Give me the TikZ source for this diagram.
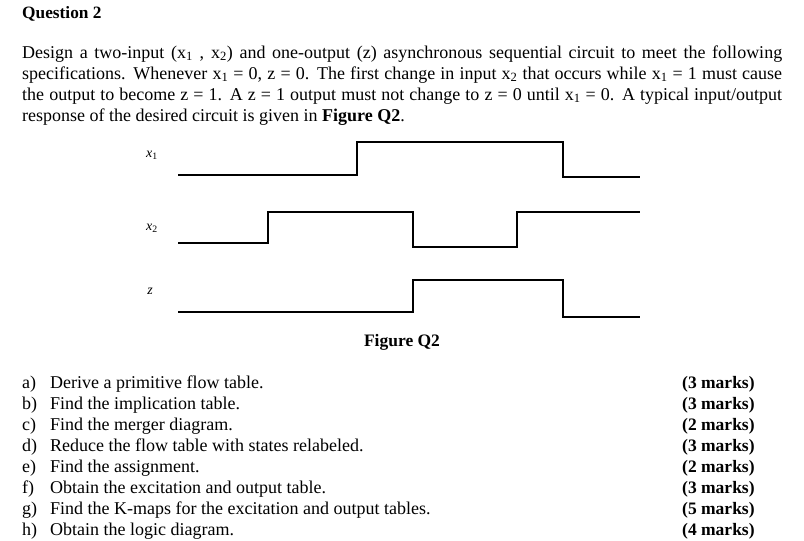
\documentclass[tikz,border=0pt]{standalone}
\usepackage{fontspec}
\setmainfont{Liberation Serif}
\begin{document}
\begin{tikzpicture}[x=1pt,y=-1pt,
  wave/.style={line width=2.6pt,line join=miter},
  ln/.style={anchor=base west,inner sep=0pt,font=\fontsize{18}{20}\selectfont},
  mk/.style={anchor=base west,inner sep=0pt,font=\fontsize{17.5}{20}\selectfont\bfseries},
  lab/.style={inner sep=0pt,font=\fontsize{14}{16}\selectfont\itshape}]
\useasboundingbox (0,0) rectangle (804,541);
\node[ln,font=\fontsize{17.3}{20}\selectfont\bfseries] (q) at (22,18) {Question 2};
\node[ln] (p1) at (22,58) {\makebox[760pt][s]{Design a two-input (x\textsubscript{1} , x\textsubscript{2}) and one-output (z) asynchronous sequential circuit to meet the following}};
\node[ln] (p2) at (22,79) {\makebox[760pt][s]{specifications. Whenever x\textsubscript{1} = 0, z = 0. The first change in input x\textsubscript{2} that occurs while x\textsubscript{1} = 1 must cause}};
\node[ln] (p3) at (22,100) {\makebox[760pt][s]{the output to become z = 1. A z = 1 output must not change to z = 0 until x\textsubscript{1} = 0. A typical input/output}};
\node[ln] (p4) at (22,121) {response of the desired circuit is given in \textbf{Figure Q2}.};
\node[lab] (l1) at (152,155) {x\textsubscript{\upshape 1}};
\node[lab] (l2) at (152,228) {x\textsubscript{\upshape 2}};
\node[lab] (l3) at (150,291) {z};
\draw[wave] (178,175) -- (357,175) -- (357,142) -- (563,142) -- (563,177) -- (640,177);
\draw[wave] (178,243) -- (268,243) -- (268,212) -- (413,212) -- (413,247) -- (517,247) -- (517,212) -- (640,212);
\draw[wave] (178,312) -- (413,312) -- (413,280) -- (563,280) -- (563,317) -- (640,317);
\node[mk,anchor=base] (fig) at (402,346) {Figure Q2};
\foreach \l/\t/\m [count=\i] in {a)/Derive a primitive flow table./3 marks,
  b)/Find the implication table./3 marks,
  c)/Find the merger diagram./2 marks,
  d)/Reduce the flow table with states relabeled./3 marks,
  e)/Find the assignment./2 marks,
  f)/Obtain the excitation and output table./3 marks,
  g)/Find the K-maps for the excitation and output tables./5 marks,
  h)/Obtain the logic diagram./4 marks}{
  \node[ln] (a\i) at (22,{388+21*(\i-1)}) {\l};
  \node[ln] (t\i) at (50,{388+21*(\i-1)}) {\t};
  \node[mk] (m\i) at (682,{388+21*(\i-1)}) {(\m)};
}
\end{tikzpicture}
\end{document}
